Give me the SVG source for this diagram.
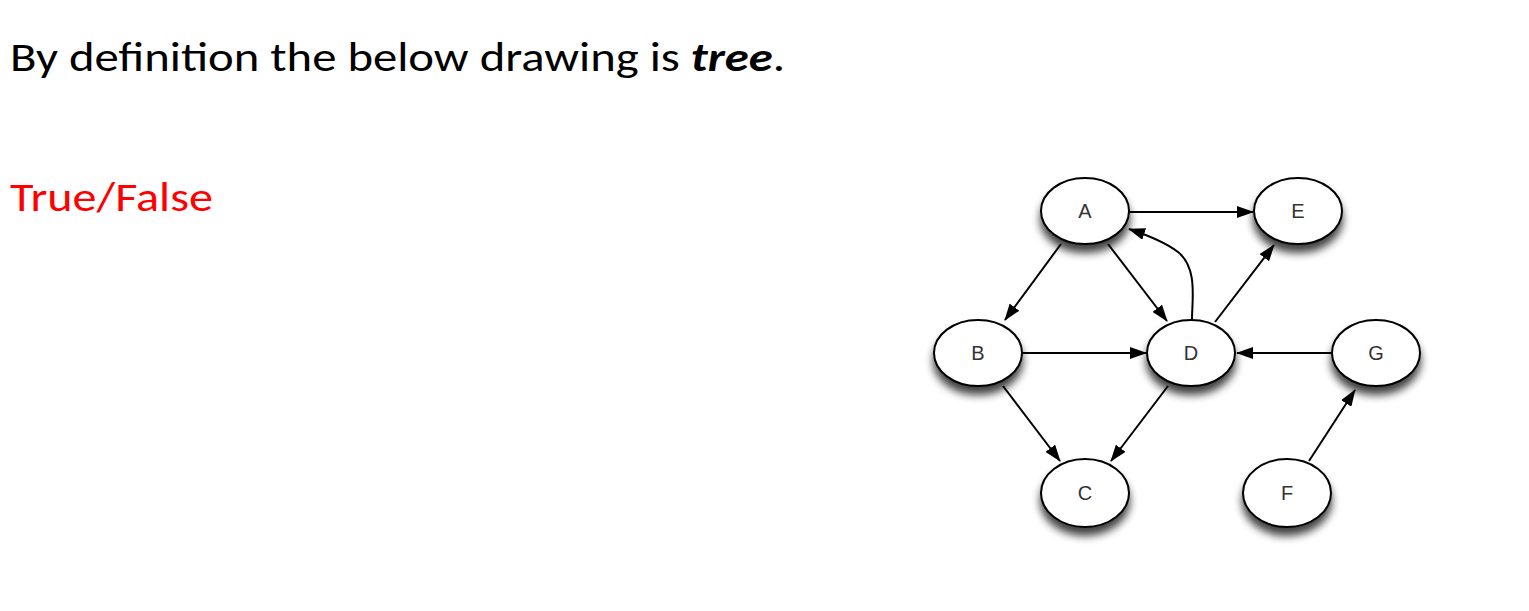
<svg xmlns="http://www.w3.org/2000/svg" width="1529" height="611" viewBox="0 0 1529 611">
<style>
.t{font-family:Carlito,"Open Sans","Liberation Sans",sans-serif;font-size:41px}
.n ellipse{fill:#fff;stroke:#000;stroke-width:2}
.n text{font-family:"Liberation Sans",Arial,sans-serif;font-size:20px;text-anchor:middle;fill:#333}
.e{stroke:#000;stroke-width:2;fill:none;marker-end:url(#ah)}
</style>
<defs>
<marker id="ah" viewBox="0 0 17 12" refX="16" refY="6" markerWidth="17" markerHeight="12" markerUnits="userSpaceOnUse" orient="auto">
<path d="M0,0 L17,6 L0,12 z" fill="#000"/>
</marker>
<filter id="sh" x="-30%" y="-30%" width="160%" height="190%">
<feGaussianBlur in="SourceAlpha" stdDeviation="4.5"/>
<feOffset dy="8" result="b"/>
<feComponentTransfer><feFuncA type="linear" slope="0.75"/></feComponentTransfer>
<feMerge><feMergeNode/><feMergeNode in="SourceGraphic"/></feMerge>
</filter>
</defs>
<rect width="1529" height="611" fill="#fff"/>
<text class="t" x="10" y="71" textLength="775" lengthAdjust="spacingAndGlyphs">By definition the below drawing is <tspan font-weight="bold" font-style="italic">tree</tspan>.</text>
<text class="t" x="10" y="211" fill="#f00" textLength="203" lengthAdjust="spacingAndGlyphs">True/False</text>
<g id="connectors">
<line class="e" x1="1129" y1="212" x2="1253" y2="212"/>
<line class="e" x1="1061" y1="244" x2="1005" y2="320"/>
<line class="e" x1="1108" y1="244" x2="1167" y2="321"/>
<path class="e" d="M1192,319 C1192,300 1198,268 1178,252 C1165,242 1150,236 1129,229"/>
<line class="e" x1="1215" y1="322" x2="1274" y2="245"/>
<line class="e" x1="1022" y1="353" x2="1146" y2="353"/>
<line class="e" x1="1332" y1="353" x2="1237" y2="353"/>
<line class="e" x1="1003" y1="386" x2="1060" y2="461"/>
<line class="e" x1="1168" y1="386" x2="1111" y2="461"/>
<line class="e" x1="1309" y1="461" x2="1355" y2="390"/>
</g>
<g id="node-A" class="n"><ellipse cx="1085" cy="211" rx="44" ry="33" filter="url(#sh)"/><text x="1085" y="218">A</text></g>
<g id="node-E" class="n"><ellipse cx="1298" cy="211" rx="44" ry="33" filter="url(#sh)"/><text x="1298" y="218">E</text></g>
<g id="node-B" class="n"><ellipse cx="978" cy="353" rx="44" ry="33" filter="url(#sh)"/><text x="978" y="360">B</text></g>
<g id="node-D" class="n"><ellipse cx="1191" cy="353" rx="44" ry="33" filter="url(#sh)"/><text x="1191" y="360">D</text></g>
<g id="node-G" class="n"><ellipse cx="1376" cy="353" rx="44" ry="33" filter="url(#sh)"/><text x="1376" y="360">G</text></g>
<g id="node-C" class="n"><ellipse cx="1085" cy="493" rx="44" ry="34" filter="url(#sh)"/><text x="1085" y="500">C</text></g>
<g id="node-F" class="n"><ellipse cx="1287" cy="493" rx="44" ry="34" filter="url(#sh)"/><text x="1287" y="500">F</text></g>
</svg>
